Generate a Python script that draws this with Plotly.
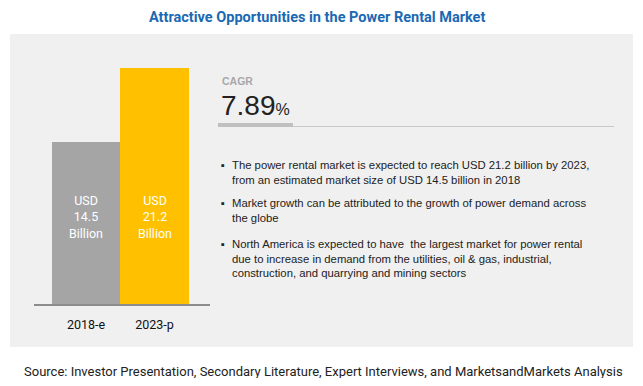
import plotly.graph_objects as go

# The page body has an 8px margin; the figure is sized to fit inside the window.
OFF = 8
WIN_W, WIN_H = 643, 386
W, H = WIN_W - 2 * OFF, WIN_H - 2 * OFF

years = ["2018-e", "2023-p"]
values = [14.5, 21.2]
bar_colors = ["#a5a5a5", "#ffc000"]
bar_labels = ["USD<br>14.5<br>Billion", "USD<br>21.2<br>Billion"]

title_text = "Attractive Opportunities in the Power Rental Market"
cagr_label = "CAGR"
cagr_value = "7.89"
bullets = [
    "The power rental market is expected to reach USD 21.2 billion by 2023,<br>from an estimated market size of USD 14.5 billion in 2018",
    "Market growth can be attributed to the growth of power demand across<br>the globe",
    "North America is expected to have  the largest market for power rental<br>due to increase in demand from the utilities, oil & gas, industrial,<br>construction, and quarrying and mining sectors",
]
source_text = "Source: Investor Presentation, Secondary Literature, Expert Interviews, and MarketsandMarkets Analysis"

NARROW = "Roboto, sans-serif"
BODY = "Liberation Sans, Arial, sans-serif"


def px(x):
    return (x - OFF) / W


def py(y):
    return 1 - (y - OFF) / H


fig = go.Figure()
fig.add_trace(go.Bar(
    x=years, y=values, marker=dict(color=bar_colors, line=dict(width=0)),
    width=1.0, hoverinfo="skip", showlegend=False,
))

baseline = 304
top = 40
unit_px = 11.15
ymax = (baseline - top) / unit_px

fig.update_layout(
    width=W, height=H,
    margin=dict(l=0, r=0, t=0, b=0),
    paper_bgcolor="white", plot_bgcolor="rgba(0,0,0,0)",
    bargap=0,
    xaxis=dict(domain=[px(34), px(210)], range=[-0.76, 1.81], type="category",
               showline=True, linecolor="#8c8c8c", linewidth=2,
               showgrid=False, ticks="", tickfont=dict(family=NARROW, size=12.5, color="#111"),
               ticklabelstandoff=8, fixedrange=True),
    yaxis=dict(domain=[py(baseline), py(top)], range=[0, ymax], visible=False, fixedrange=True),
    shapes=[
        dict(type="rect", xref="paper", yref="paper", x0=px(10), x1=px(633), y0=py(347), y1=py(34),
             fillcolor="#f0f0f0", line=dict(width=0), layer="below"),
        dict(type="line", xref="paper", yref="paper", x0=px(218), x1=px(614), y0=py(126.5), y1=py(126.5),
             line=dict(color="#c8c8c8", width=1)),
        dict(type="rect", xref="paper", yref="paper", x0=px(218), x1=px(293), y0=py(127), y1=py(123),
             fillcolor="#c0c0c0", line=dict(width=0)),
    ],
)

ann = []
ann.append(dict(text="<b>" + title_text + "</b>", x=px(317), y=py(17.5), xref="paper", yref="paper",
                showarrow=False, font=dict(family=NARROW, size=14.5, color="#1a69b3"),
                xanchor="center", yanchor="middle"))
for i, lab in enumerate(bar_labels):
    ann.append(dict(text=lab, x=years[i], y=(baseline - 217) / unit_px, xref="x", yref="y",
                    showarrow=False, font=dict(family=NARROW, size=12.5, color="white"),
                    xanchor="center", yanchor="middle"))
ann.append(dict(text="<b>" + cagr_label + "</b>", x=px(220), y=py(81), xref="paper", yref="paper",
                showarrow=False, font=dict(family=BODY, size=10.5, color="#a8a8a8"),
                xanchor="left", yanchor="middle"))
ann.append(dict(text=cagr_value + "<span style='font-size:16px'>%</span>", x=px(219), y=py(106),
                xref="paper", yref="paper", showarrow=False,
                font=dict(family=BODY, size=28, color="#222"), xanchor="left", yanchor="middle"))
bullet_y = [165, 203, 244]
for yb, txt in zip(bullet_y, bullets):
    ann.append(dict(text="▪", x=px(219), y=py(yb), xref="paper", yref="paper", showarrow=False,
                    font=dict(family=BODY, size=11, color="#222"), xanchor="left", yanchor="middle"))
    ann.append(dict(text=txt, x=px(230), y=py(yb - 8), xref="paper", yref="paper", showarrow=False,
                    align="left", font=dict(family=BODY, size=11.3, color="#222"),
                    xanchor="left", yanchor="top"))
ann.append(dict(text=source_text, x=px(22), y=py(371), xref="paper", yref="paper", showarrow=False,
                font=dict(family=NARROW, size=13, color="#222"), xanchor="left", yanchor="middle"))
fig.update_layout(annotations=ann)

fig.write_html("out.html")
